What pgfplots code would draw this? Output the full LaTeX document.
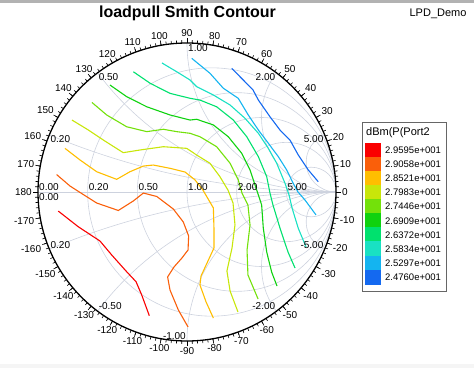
\documentclass[border=0pt]{standalone}
\usepackage{fontspec}
\setmainfont{Liberation Sans}
\usepackage{pgfplots}
\pgfplotsset{compat=1.18}

% contour level colours, highest power first
\definecolor{c1}{RGB}{250,0,0}
\definecolor{c2}{RGB}{250,95,10}
\definecolor{c3}{RGB}{255,190,0}
\definecolor{c4}{RGB}{200,230,10}
\definecolor{c5}{RGB}{115,225,10}
\definecolor{c6}{RGB}{15,210,15}
\definecolor{c7}{RGB}{0,225,110}
\definecolor{c8}{RGB}{25,225,195}
\definecolor{c9}{RGB}{20,180,240}
\definecolor{c10}{RGB}{20,105,240}
\definecolor{smithgrid}{RGB}{205,210,222}

\begin{document}
\begin{tikzpicture}[x=1pt,y=1pt]
\begin{axis}[
  scale only axis, width=298pt, height=298pt,
  xmin=-1, xmax=1, ymin=-1, ymax=1,
  hide axis, clip=false, no markers,
  every axis plot/.append style={line width=1.1pt},
  legend cell align=left,
  legend image code/.code={\fill[#1, line width=0pt] (0pt,-7.05pt) rectangle (15pt,7.05pt);},
  legend style={at={(axis description cs:1.0973,0.6644)}, anchor=north west,
    draw=none, fill=none, inner sep=0pt, row sep=0pt, column sep=5pt,
    font=\fontsize{9.5}{10}\selectfont, nodes={inner sep=0pt, text depth=0pt}},
]
\coordinate (O) at (axis cs:0,0);
% Smith chart grid (constant resistance circles, constant reactance arcs)
\begin{scope}
  \clip (axis cs:0,0) circle[radius=1];
  \draw[smithgrid, line width=0.6pt] (axis cs:-1,0) -- (axis cs:1,0);
  \draw[smithgrid, line width=0.6pt] (axis cs:0.16667,0) circle[radius=0.83333];
  \draw[smithgrid, line width=0.6pt] (axis cs:0.33333,0) circle[radius=0.66667];
  \draw[smithgrid, line width=0.6pt] (axis cs:0.5,0) circle[radius=0.5];
  \draw[smithgrid, line width=0.6pt] (axis cs:0.66667,0) circle[radius=0.33333];
  \draw[smithgrid, line width=0.6pt] (axis cs:0.83333,0) circle[radius=0.16667];
  \draw[smithgrid, line width=0.6pt] (axis cs:1,5) circle[radius=5];
  \draw[smithgrid, line width=0.6pt] (axis cs:1,-5) circle[radius=5];
  \draw[smithgrid, line width=0.6pt] (axis cs:1,2) circle[radius=2];
  \draw[smithgrid, line width=0.6pt] (axis cs:1,-2) circle[radius=2];
  \draw[smithgrid, line width=0.6pt] (axis cs:1,1) circle[radius=1];
  \draw[smithgrid, line width=0.6pt] (axis cs:1,-1) circle[radius=1];
  \draw[smithgrid, line width=0.6pt] (axis cs:1,0.5) circle[radius=0.5];
  \draw[smithgrid, line width=0.6pt] (axis cs:1,-0.5) circle[radius=0.5];
  \draw[smithgrid, line width=0.6pt] (axis cs:1,0.2) circle[radius=0.2];
  \draw[smithgrid, line width=0.6pt] (axis cs:1,-0.2) circle[radius=0.2];
\end{scope}

% load-pull power contours (reflection coefficient plane)
\addplot[c1] coordinates {(-0.864,-0.128) (-0.730,-0.233) (-0.584,-0.329) (-0.505,-0.423)
  (-0.405,-0.535) (-0.342,-0.602) (-0.304,-0.691) (-0.253,-0.830)};
\addlegendentry{2.9595e+001}
\addplot[c2] coordinates {(-0.875,0.117) (-0.785,0.040) (-0.718,-0.003) (-0.606,-0.074)
  (-0.461,-0.124) (-0.360,-0.060) (-0.293,-0.007) (-0.203,-0.030) (-0.092,-0.114)
  (-0.025,-0.201) (0.011,-0.295) (0.007,-0.389) (-0.034,-0.443) (-0.087,-0.503)
  (-0.130,-0.570) (-0.114,-0.658) (-0.058,-0.792) (0.007,-0.906)};
\addlegendentry{2.9058e+001}
\addplot[c3] coordinates {(-0.819,0.293) (-0.718,0.215) (-0.606,0.136) (-0.472,0.085)
  (-0.383,0.136) (-0.293,0.174) (-0.226,0.181) (-0.114,0.159) (-0.013,0.134)
  (0.054,0.081) (0.107,0.013) (0.177,-0.107) (0.181,-0.242) (0.181,-0.376)
  (0.094,-0.564) (0.087,-0.624) (0.128,-0.738) (0.177,-0.846)};
\addlegendentry{2.8521e+001}
\addplot[c4] coordinates {(-0.772,0.483) (-0.662,0.416) (-0.562,0.349) (-0.428,0.264)
  (-0.315,0.282) (-0.159,0.304) (-0.002,0.293) (0.065,0.248) (0.154,0.193)
  (0.221,0.103) (0.275,0.013) (0.309,-0.074) (0.322,-0.221) (0.302,-0.376)
  (0.268,-0.530) (0.289,-0.664) (0.342,-0.805)};
\addlegendentry{2.7983e+001}
\addplot[c5] coordinates {(-0.638,0.601) (-0.539,0.517) (-0.405,0.438) (-0.270,0.405)
  (-0.159,0.421) (-0.069,0.405) (0.020,0.394) (0.087,0.371) (0.199,0.304)
  (0.289,0.193) (0.344,0.081) (0.369,-0.007) (0.409,-0.087) (0.423,-0.221)
  (0.403,-0.389) (0.409,-0.557) (0.477,-0.718)};
\addlegendentry{2.7446e+001}
\addplot[c6] coordinates {(-0.517,0.718) (-0.405,0.640) (-0.270,0.572) (-0.114,0.517)
  (0.020,0.483) (0.065,0.488) (0.177,0.450) (0.277,0.371) (0.367,0.260)
  (0.423,0.148) (0.468,0.013) (0.501,-0.087) (0.512,-0.242) (0.535,-0.403)
  (0.568,-0.537) (0.604,-0.631)};
\addlegendentry{2.6909e+001}
\addplot[c7] coordinates {(-0.360,0.807) (-0.248,0.730) (-0.114,0.662) (0.020,0.629)
  (0.087,0.617) (0.199,0.572) (0.311,0.483) (0.401,0.371) (0.479,0.237)
  (0.535,0.103) (0.557,-0.007) (0.577,-0.087) (0.624,-0.242) (0.678,-0.403)
  (0.725,-0.510)};
\addlegendentry{2.6372e+001}
\addplot[c8] coordinates {(-0.168,0.866) (-0.069,0.807) (0.020,0.752) (0.065,0.707)
  (0.177,0.651) (0.289,0.584) (0.389,0.495) (0.479,0.394) (0.546,0.293)
  (0.602,0.193) (0.658,0.058) (0.685,-0.020) (0.705,-0.107) (0.747,-0.244)
  (0.799,-0.369)};
\addlegendentry{2.5834e+001}
\addplot[c9] coordinates {(0.032,0.897) (0.154,0.797) (0.244,0.696) (0.344,0.629)
  (0.411,0.517) (0.479,0.416) (0.546,0.327) (0.613,0.237) (0.669,0.148)
  (0.713,0.058) (0.745,0.000) (0.792,-0.054) (0.866,-0.154)};
\addlegendentry{2.5297e+001}
\addplot[c10] coordinates {(0.300,0.830) (0.389,0.740) (0.443,0.685) (0.479,0.617)
  (0.557,0.505) (0.624,0.416) (0.691,0.349) (0.747,0.248) (0.814,0.148)
  (0.881,0.069)};
\addlegendentry{2.4760e+001}

% outer boundary |Gamma| = 1
\draw[black, line width=1.3pt] (axis cs:0,0) circle[radius=1];

% resistance labels on the real axis
\begin{scope}[font=\fontsize{10}{12}\selectfont, inner sep=1pt]
\node[anchor=south west] at (axis cs:-1,0) {0.00};
\node[anchor=north west] at (axis cs:-1,0) {0.00};
\node[anchor=south west] at (axis cs:-0.66667,0) {0.20};
\node[anchor=south west] at (axis cs:-0.33333,0) {0.50};
\node[anchor=south west] at (axis cs:0,0) {1.00};
\node[anchor=south west] at (axis cs:0.33333,0) {2.00};
\node[anchor=south west] at (axis cs:0.66667,0) {5.00};
% reactance labels on the rim
\node[anchor=north west] at (axis cs:-0.9231,0.3846) {0.20};
\node[anchor=north west] at (axis cs:-0.6,0.8) {0.50};
\node[anchor=north west] at (axis cs:0,1) {1.00};
\node[anchor=north east] at (axis cs:0.6,0.8) {2.00};
\node[anchor=north east] at (axis cs:0.9231,0.3846) {5.00};
\node[anchor=south west] at (axis cs:-0.9231,-0.3846) {0.20};
\node[anchor=south west] at (axis cs:-0.6,-0.8) {-0.50};
\node[anchor=south east] at (axis cs:0,-1) {-1.00};
\node[anchor=south east] at (axis cs:0.6,-0.8) {-2.00};
\node[anchor=south east] at (axis cs:0.9231,-0.3846) {-5.00};
\end{scope}
\end{axis}

% everything below is placed relative to the chart centre O
\begin{scope}[shift={(O)}]
% angle scale around the chart
\foreach \a in {0,2,...,358} \draw[line width=0.6pt] (\a:149) -- (\a:152);
\foreach \a in {0,10,...,350} {
  \draw[line width=0.6pt] (\a:149) -- (\a:154);
  \pgfmathtruncatemacro\lab{\a>180 ? \a-360 : \a}
  \pgfmathtruncatemacro\anc{\a+180}
  \path (\a:154) node[anchor=\anc, inner sep=1pt, font=\fontsize{10}{12}\selectfont] {\lab};
}

% titles
\node[font=\bfseries\fontsize{16}{19}\selectfont] at (0.5,178.5) {loadpull Smith Contour};
\node[anchor=east, font=\fontsize{11}{13}\selectfont] at (283,178.5) {LPD\_Demo};

% legend frame and heading
\draw[black!60, line width=0.8pt] (175,70) rectangle (259.5,-99);
\node[anchor=west, inner sep=0pt, font=\fontsize{11}{13}\selectfont] at (179,59) {dBm(P(Port2};

% page frame bands
\fill[black!30] (-187,189.5) rectangle (287,192);
\fill[black!4] (-187,-176) rectangle (287,-172);
\end{scope}

\pgfresetboundingbox
\begin{scope}[shift={(O)}]
\path[use as bounding box] (-187,-176) rectangle (287,192);
\end{scope}
\end{tikzpicture}
\end{document}
